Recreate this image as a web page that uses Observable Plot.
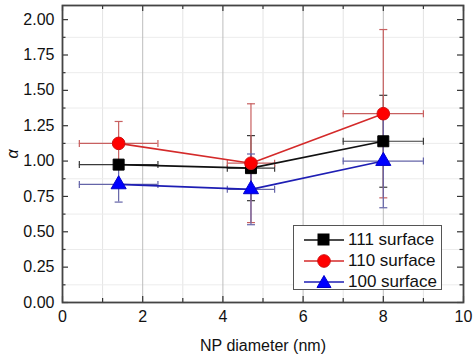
<!DOCTYPE html>
<html>
<head>
<meta charset="utf-8">
<script src="https://cdn.jsdelivr.net/npm/d3@7"></script>
<script src="https://cdn.jsdelivr.net/npm/@observablehq/plot@0.6"></script>
<style>
  body { margin: 0; background: #fff; }
  #wrap { position: relative; width: 474px; height: 358px; font-family: "Liberation Sans", Arial, sans-serif; }
  #wrap svg [aria-label="y-axis label"] text, #wrap svg g[aria-label="y-axis label"] { font-style: italic; }
  .legend { position: absolute; left: 293px; top: 225px; width: 149px; height: 65px; border: 1px solid #555; background: #fff; box-sizing: border-box; }
  .legend .row { position: absolute; left: 0; height: 20px; display: flex; align-items: center; }
  .legend .row span { font-size: 17px; color: #111; margin-left: 4px; white-space: nowrap; }
</style>
</head>
<body>
<div id="wrap"></div>
<script>
// ---- data ----
const xDiameter = [1.4, 4.7, 8.0];
const xErr = [0.98, 0.59, 1.0];
const seriesNames = ["111 surface", "110 surface", "100 surface"];
const y111 = [0.975, 0.95, 1.14];
const e111 = [0.03, 0.23, 0.325];
const y110 = [1.125, 0.985, 1.335];
const e110 = [0.155, 0.42, 0.595];
const y100 = [0.835, 0.80, 1.0];
const e100 = [0.125, 0.25, 0.33];
const xTicks = [0, 2, 4, 6, 8, 10];
const xMinorTicks = [1, 3, 5, 7, 9];
const yTicks = [0, 0.25, 0.5, 0.75, 1.0, 1.25, 1.5, 1.75, 2.0];
const yMinorTicks = [0.125, 0.375, 0.625, 0.875, 1.125, 1.375, 1.625, 1.875];

// ---- styles ----
const styles = {
  "111 surface": {marker: "#000000", edge: "#000000", line: "#111111", err: "#3a3a3a", symbol: "square", r: 6.2},
  "110 surface": {marker: "#ff0000", edge: "#d01010", line: "#d42a2a", err: "#c86060", symbol: "circle", r: 6.3},
  "100 surface": {marker: "#0000ff", edge: "#0000cc", line: "#1e1eb4", err: "#6464a8", symbol: "triangle", r: 5.6}
};

const yVals = [y111, y110, y100];
const yErrs = [e111, e110, e100];
const rows = [];
seriesNames.forEach((name, s) => {
  yVals[s].forEach((v, i) => rows.push({series: name, x: xDiameter[i], y: v, ex: xErr[i], ey: yErrs[s][i]}));
});

const hcap = {draw(ctx) { ctx.moveTo(-4, 0); ctx.lineTo(4, 0); }};
const vcap = {draw(ctx) { ctx.moveTo(0, -3.5); ctx.lineTo(0, 3.5); }};

const W = 474, H = 358, mL = 62, mR = 11, mT = 5, mB = 56;
const pw = W - mL - mR, ph = H - mT - mB;

const marks = [
  Plot.ruleX(xMinorTicks, {stroke: "#e4e4e4", strokeWidth: 1}),
  Plot.ruleY(yMinorTicks, {stroke: "#ececec", strokeWidth: 1}),
  Plot.ruleX(xTicks.filter(d => d > 0 && d < 10), {stroke: "#bdbdbd", strokeWidth: 1}),
];

seriesNames.forEach(name => {
  const st = styles[name];
  const d = rows.filter(r => r.series === name);
  marks.push(
    Plot.ruleY(d, {y: "y", x1: r => r.x - r.ex, x2: r => r.x + r.ex, stroke: st.err, strokeWidth: 1.2}),
    Plot.ruleX(d, {x: "x", y1: r => r.y - r.ey, y2: r => r.y + r.ey, stroke: st.err, strokeWidth: 1.2}),
    Plot.dot(d, {x: "x", y: r => r.y - r.ey, symbol: hcap, stroke: st.err, fill: "none", strokeWidth: 1.2}),
    Plot.dot(d, {x: "x", y: r => r.y + r.ey, symbol: hcap, stroke: st.err, fill: "none", strokeWidth: 1.2}),
    Plot.dot(d, {x: r => r.x - r.ex, y: "y", symbol: vcap, stroke: st.err, fill: "none", strokeWidth: 1.2}),
    Plot.dot(d, {x: r => r.x + r.ex, y: "y", symbol: vcap, stroke: st.err, fill: "none", strokeWidth: 1.2})
  );
});
seriesNames.forEach(name => {
  const st = styles[name];
  const d = rows.filter(r => r.series === name);
  marks.push(Plot.line(d, {x: "x", y: "y", stroke: st.line, strokeWidth: 1.6}));
});
seriesNames.forEach(name => {
  const st = styles[name];
  const d = rows.filter(r => r.series === name);
  marks.push(Plot.dot(d, {x: "x", y: "y", symbol: st.symbol, r: st.r, fill: st.marker, stroke: st.edge, strokeWidth: 1}));
});

// inward ticks on all four sides
marks.push(
  Plot.tickY(yTicks, {y: d => d, stroke: "#333", strokeWidth: 1.2, insetRight: pw - 6}),
  Plot.tickY(yMinorTicks, {y: d => d, stroke: "#333", strokeWidth: 1.2, insetRight: pw - 3.5}),
  Plot.tickY(yTicks, {y: d => d, stroke: "#333", strokeWidth: 1.2, insetLeft: pw - 6}),
  Plot.tickY(yMinorTicks, {y: d => d, stroke: "#333", strokeWidth: 1.2, insetLeft: pw - 3.5}),
  Plot.tickX(xTicks, {x: d => d, stroke: "#333", strokeWidth: 1.2, insetTop: ph - 6}),
  Plot.tickX(xMinorTicks, {x: d => d, stroke: "#333", strokeWidth: 1.2, insetTop: ph - 4}),
  Plot.tickX(xTicks, {x: d => d, stroke: "#333", strokeWidth: 1.2, insetBottom: ph - 6}),
  Plot.tickX(xMinorTicks, {x: d => d, stroke: "#333", strokeWidth: 1.2, insetBottom: ph - 4}),
  Plot.frame({stroke: "#444", strokeWidth: 1.8}),
  Plot.axisX({ticks: xTicks, tickSize: 0, tickPadding: 8, tickFormat: d3.format("d"), label: "NP diameter (nm)", labelAnchor: "center", labelOffset: 48, labelArrow: "none", fill: "#111"}),
  Plot.axisY({ticks: yTicks, tickSize: 0, tickPadding: 8, tickFormat: d3.format(".2f"), label: "α", labelAnchor: "center", labelOffset: 56, labelArrow: "none", fill: "#111"})
);

const chart = Plot.plot({
  width: W, height: H,
  marginLeft: mL, marginRight: mR, marginTop: mT, marginBottom: mB,
  style: {fontFamily: '"Liberation Sans", Arial, sans-serif', fontSize: "16px", color: "#111", background: "#fff"},
  x: {domain: [0, 10]},
  y: {domain: [0, 2.1]},
  marks
});
const wrap = document.getElementById("wrap");
wrap.appendChild(chart);

// legend (inside plot area, as in the reference)
const legend = document.createElement("div");
legend.className = "legend";
const symbolSvg = {
  square: '<rect x="14" y="4" width="11" height="11" fill="#000" stroke="#000"/>',
  circle: '<circle cx="20" cy="10" r="6.3" fill="#ff0000" stroke="#d01010"/>',
  triangle: '<path d="M20,3.5 L27,15.5 L13,15.5 Z" fill="#0000ff" stroke="#0000cc"/>'
};
seriesNames.forEach((name, i) => {
  const st = styles[name];
  const row = document.createElement("div");
  row.className = "row";
  row.style.top = (4 + i * 21) + "px";
  row.style.left = "10px";
  row.innerHTML = `<svg width="40" height="20"><line x1="0" x2="40" y1="10" y2="10" stroke="${st.line}" stroke-width="1.6"/>${symbolSvg[st.symbol]}</svg><span>${name}</span>`;
  legend.appendChild(row);
});
wrap.appendChild(legend);
</script>
</body>
</html>
